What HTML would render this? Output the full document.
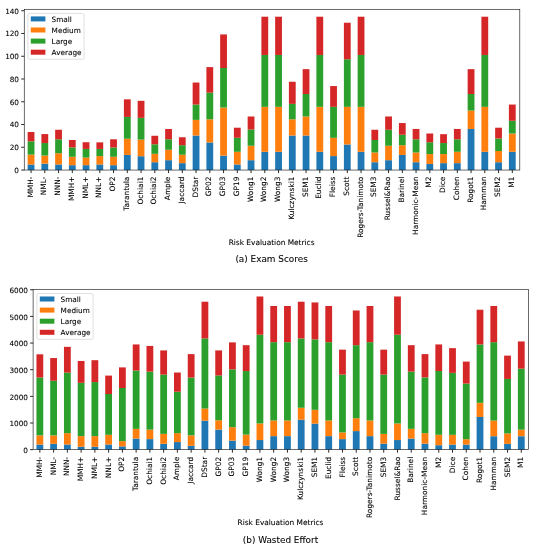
<!DOCTYPE html>
<html><head><meta charset="utf-8"><title>Risk Evaluation Metrics</title>
<style>
html,body{margin:0;padding:0;background:#fff;}
svg{display:block;}
text{font-family:"DejaVu Sans","Liberation Sans",sans-serif;fill:#000;stroke:#000;stroke-width:0.08px;}
.xt,.yt,.lg,.xl{font-size:7.3px;}
.cap{font-size:8.9px;}
.xt,.xl{font-size:7.4px;}
.yt{letter-spacing:-0.12px;}
.tk{stroke:#000;stroke-width:0.85;}
.sp{fill:none;stroke:#111;stroke-width:0.62;}
</style></head><body>
<svg width="536" height="550" viewBox="0 0 536 550">
<rect width="536" height="550" fill="#fff"/>
<rect x="27.65" y="164.49" width="6.80" height="5.56" fill="#1f77b4"/>
<rect x="27.65" y="154.61" width="6.80" height="9.87" fill="#ff7f0e"/>
<rect x="27.65" y="141.33" width="6.80" height="13.28" fill="#2ca02c"/>
<rect x="27.65" y="132.03" width="6.80" height="9.31" fill="#d62728"/>
<rect x="41.40" y="163.69" width="6.80" height="6.36" fill="#1f77b4"/>
<rect x="41.40" y="155.52" width="6.80" height="8.17" fill="#ff7f0e"/>
<rect x="41.40" y="143.04" width="6.80" height="12.49" fill="#2ca02c"/>
<rect x="41.40" y="134.07" width="6.80" height="8.97" fill="#d62728"/>
<rect x="55.15" y="164.49" width="6.80" height="5.56" fill="#1f77b4"/>
<rect x="55.15" y="153.25" width="6.80" height="11.24" fill="#ff7f0e"/>
<rect x="55.15" y="139.29" width="6.80" height="13.96" fill="#2ca02c"/>
<rect x="55.15" y="129.76" width="6.80" height="9.53" fill="#d62728"/>
<rect x="68.90" y="165.17" width="6.80" height="4.88" fill="#1f77b4"/>
<rect x="68.90" y="156.77" width="6.80" height="8.40" fill="#ff7f0e"/>
<rect x="68.90" y="147.46" width="6.80" height="9.31" fill="#2ca02c"/>
<rect x="68.90" y="139.97" width="6.80" height="7.49" fill="#d62728"/>
<rect x="82.65" y="165.17" width="6.80" height="4.88" fill="#1f77b4"/>
<rect x="82.65" y="157.56" width="6.80" height="7.60" fill="#ff7f0e"/>
<rect x="82.65" y="148.94" width="6.80" height="8.63" fill="#2ca02c"/>
<rect x="82.65" y="142.24" width="6.80" height="6.70" fill="#d62728"/>
<rect x="96.40" y="164.49" width="6.80" height="5.56" fill="#1f77b4"/>
<rect x="96.40" y="156.09" width="6.80" height="8.40" fill="#ff7f0e"/>
<rect x="96.40" y="148.94" width="6.80" height="7.15" fill="#2ca02c"/>
<rect x="96.40" y="142.36" width="6.80" height="6.58" fill="#d62728"/>
<rect x="110.15" y="165.17" width="6.80" height="4.88" fill="#1f77b4"/>
<rect x="110.15" y="156.77" width="6.80" height="8.40" fill="#ff7f0e"/>
<rect x="110.15" y="147.46" width="6.80" height="9.31" fill="#2ca02c"/>
<rect x="110.15" y="139.29" width="6.80" height="8.17" fill="#d62728"/>
<rect x="123.90" y="154.95" width="6.80" height="15.10" fill="#1f77b4"/>
<rect x="123.90" y="138.72" width="6.80" height="16.23" fill="#ff7f0e"/>
<rect x="123.90" y="116.93" width="6.80" height="21.79" fill="#2ca02c"/>
<rect x="123.90" y="99.34" width="6.80" height="17.59" fill="#d62728"/>
<rect x="137.65" y="156.20" width="6.80" height="13.85" fill="#1f77b4"/>
<rect x="137.65" y="139.63" width="6.80" height="16.57" fill="#ff7f0e"/>
<rect x="137.65" y="117.84" width="6.80" height="21.79" fill="#2ca02c"/>
<rect x="137.65" y="100.82" width="6.80" height="17.02" fill="#d62728"/>
<rect x="151.40" y="162.22" width="6.80" height="7.83" fill="#1f77b4"/>
<rect x="151.40" y="153.82" width="6.80" height="8.40" fill="#ff7f0e"/>
<rect x="151.40" y="144.29" width="6.80" height="9.53" fill="#2ca02c"/>
<rect x="151.40" y="135.77" width="6.80" height="8.51" fill="#d62728"/>
<rect x="165.15" y="160.18" width="6.80" height="9.87" fill="#1f77b4"/>
<rect x="165.15" y="149.73" width="6.80" height="10.44" fill="#ff7f0e"/>
<rect x="165.15" y="139.29" width="6.80" height="10.44" fill="#2ca02c"/>
<rect x="165.15" y="128.96" width="6.80" height="10.33" fill="#d62728"/>
<rect x="178.90" y="163.13" width="6.80" height="6.92" fill="#1f77b4"/>
<rect x="178.90" y="154.73" width="6.80" height="8.40" fill="#ff7f0e"/>
<rect x="178.90" y="145.19" width="6.80" height="9.53" fill="#2ca02c"/>
<rect x="178.90" y="137.25" width="6.80" height="7.95" fill="#d62728"/>
<rect x="192.65" y="135.55" width="6.80" height="34.50" fill="#1f77b4"/>
<rect x="192.65" y="119.88" width="6.80" height="15.66" fill="#ff7f0e"/>
<rect x="192.65" y="104.56" width="6.80" height="15.32" fill="#2ca02c"/>
<rect x="192.65" y="82.54" width="6.80" height="22.02" fill="#d62728"/>
<rect x="206.40" y="142.47" width="6.80" height="27.58" fill="#1f77b4"/>
<rect x="206.40" y="119.32" width="6.80" height="23.15" fill="#ff7f0e"/>
<rect x="206.40" y="92.64" width="6.80" height="26.67" fill="#2ca02c"/>
<rect x="206.40" y="67.11" width="6.80" height="25.54" fill="#d62728"/>
<rect x="220.15" y="155.64" width="6.80" height="14.41" fill="#1f77b4"/>
<rect x="220.15" y="107.51" width="6.80" height="48.12" fill="#ff7f0e"/>
<rect x="220.15" y="68.01" width="6.80" height="39.50" fill="#2ca02c"/>
<rect x="220.15" y="34.42" width="6.80" height="33.60" fill="#d62728"/>
<rect x="233.90" y="164.49" width="6.80" height="5.56" fill="#1f77b4"/>
<rect x="233.90" y="151.78" width="6.80" height="12.71" fill="#ff7f0e"/>
<rect x="233.90" y="137.82" width="6.80" height="13.96" fill="#2ca02c"/>
<rect x="233.90" y="127.71" width="6.80" height="10.10" fill="#d62728"/>
<rect x="247.65" y="160.18" width="6.80" height="9.87" fill="#1f77b4"/>
<rect x="247.65" y="145.76" width="6.80" height="14.41" fill="#ff7f0e"/>
<rect x="247.65" y="129.53" width="6.80" height="16.23" fill="#2ca02c"/>
<rect x="247.65" y="116.48" width="6.80" height="13.05" fill="#d62728"/>
<rect x="261.40" y="151.78" width="6.80" height="18.27" fill="#1f77b4"/>
<rect x="261.40" y="106.83" width="6.80" height="44.95" fill="#ff7f0e"/>
<rect x="261.40" y="54.96" width="6.80" height="51.87" fill="#2ca02c"/>
<rect x="261.40" y="16.71" width="6.80" height="38.25" fill="#d62728"/>
<rect x="275.15" y="151.78" width="6.80" height="18.27" fill="#1f77b4"/>
<rect x="275.15" y="106.83" width="6.80" height="44.95" fill="#ff7f0e"/>
<rect x="275.15" y="54.96" width="6.80" height="51.87" fill="#2ca02c"/>
<rect x="275.15" y="16.71" width="6.80" height="38.25" fill="#d62728"/>
<rect x="288.90" y="135.55" width="6.80" height="34.50" fill="#1f77b4"/>
<rect x="288.90" y="119.32" width="6.80" height="16.23" fill="#ff7f0e"/>
<rect x="288.90" y="103.88" width="6.80" height="15.44" fill="#2ca02c"/>
<rect x="288.90" y="81.75" width="6.80" height="22.13" fill="#d62728"/>
<rect x="302.65" y="135.55" width="6.80" height="34.50" fill="#1f77b4"/>
<rect x="302.65" y="116.48" width="6.80" height="19.07" fill="#ff7f0e"/>
<rect x="302.65" y="94.01" width="6.80" height="22.47" fill="#2ca02c"/>
<rect x="302.65" y="69.15" width="6.80" height="24.86" fill="#d62728"/>
<rect x="316.40" y="151.78" width="6.80" height="18.27" fill="#1f77b4"/>
<rect x="316.40" y="106.83" width="6.80" height="44.95" fill="#ff7f0e"/>
<rect x="316.40" y="54.96" width="6.80" height="51.87" fill="#2ca02c"/>
<rect x="316.40" y="16.71" width="6.80" height="38.25" fill="#d62728"/>
<rect x="330.15" y="156.09" width="6.80" height="13.96" fill="#1f77b4"/>
<rect x="330.15" y="137.82" width="6.80" height="18.27" fill="#ff7f0e"/>
<rect x="330.15" y="106.83" width="6.80" height="30.99" fill="#2ca02c"/>
<rect x="330.15" y="86.06" width="6.80" height="20.77" fill="#d62728"/>
<rect x="343.90" y="144.51" width="6.80" height="25.54" fill="#1f77b4"/>
<rect x="343.90" y="106.83" width="6.80" height="37.68" fill="#ff7f0e"/>
<rect x="343.90" y="59.27" width="6.80" height="47.56" fill="#2ca02c"/>
<rect x="343.90" y="22.73" width="6.80" height="36.55" fill="#d62728"/>
<rect x="357.65" y="151.78" width="6.80" height="18.27" fill="#1f77b4"/>
<rect x="357.65" y="106.83" width="6.80" height="44.95" fill="#ff7f0e"/>
<rect x="357.65" y="54.96" width="6.80" height="51.87" fill="#2ca02c"/>
<rect x="357.65" y="16.71" width="6.80" height="38.25" fill="#d62728"/>
<rect x="371.40" y="162.22" width="6.80" height="7.83" fill="#1f77b4"/>
<rect x="371.40" y="152.46" width="6.80" height="9.76" fill="#ff7f0e"/>
<rect x="371.40" y="139.97" width="6.80" height="12.48" fill="#2ca02c"/>
<rect x="371.40" y="129.76" width="6.80" height="10.22" fill="#d62728"/>
<rect x="385.15" y="160.18" width="6.80" height="9.87" fill="#1f77b4"/>
<rect x="385.15" y="145.76" width="6.80" height="14.41" fill="#ff7f0e"/>
<rect x="385.15" y="129.76" width="6.80" height="16.00" fill="#2ca02c"/>
<rect x="385.15" y="116.48" width="6.80" height="13.28" fill="#d62728"/>
<rect x="398.90" y="154.95" width="6.80" height="15.10" fill="#1f77b4"/>
<rect x="398.90" y="145.19" width="6.80" height="9.76" fill="#ff7f0e"/>
<rect x="398.90" y="134.75" width="6.80" height="10.44" fill="#2ca02c"/>
<rect x="398.90" y="123.06" width="6.80" height="11.69" fill="#d62728"/>
<rect x="412.65" y="162.22" width="6.80" height="7.83" fill="#1f77b4"/>
<rect x="412.65" y="152.46" width="6.80" height="9.76" fill="#ff7f0e"/>
<rect x="412.65" y="139.29" width="6.80" height="13.17" fill="#2ca02c"/>
<rect x="412.65" y="128.96" width="6.80" height="10.33" fill="#d62728"/>
<rect x="426.40" y="163.92" width="6.80" height="6.13" fill="#1f77b4"/>
<rect x="426.40" y="154.05" width="6.80" height="9.87" fill="#ff7f0e"/>
<rect x="426.40" y="142.24" width="6.80" height="11.80" fill="#2ca02c"/>
<rect x="426.40" y="133.50" width="6.80" height="8.74" fill="#d62728"/>
<rect x="440.15" y="163.13" width="6.80" height="6.92" fill="#1f77b4"/>
<rect x="440.15" y="154.05" width="6.80" height="9.08" fill="#ff7f0e"/>
<rect x="440.15" y="143.04" width="6.80" height="11.01" fill="#2ca02c"/>
<rect x="440.15" y="134.18" width="6.80" height="8.85" fill="#d62728"/>
<rect x="453.90" y="163.13" width="6.80" height="6.92" fill="#1f77b4"/>
<rect x="453.90" y="151.78" width="6.80" height="11.35" fill="#ff7f0e"/>
<rect x="453.90" y="139.29" width="6.80" height="12.48" fill="#2ca02c"/>
<rect x="453.90" y="128.96" width="6.80" height="10.33" fill="#d62728"/>
<rect x="467.65" y="128.96" width="6.80" height="41.09" fill="#1f77b4"/>
<rect x="467.65" y="110.58" width="6.80" height="18.39" fill="#ff7f0e"/>
<rect x="467.65" y="94.01" width="6.80" height="16.57" fill="#2ca02c"/>
<rect x="467.65" y="69.15" width="6.80" height="24.86" fill="#d62728"/>
<rect x="481.40" y="151.78" width="6.80" height="18.27" fill="#1f77b4"/>
<rect x="481.40" y="106.83" width="6.80" height="44.95" fill="#ff7f0e"/>
<rect x="481.40" y="54.96" width="6.80" height="51.87" fill="#2ca02c"/>
<rect x="481.40" y="16.71" width="6.80" height="38.25" fill="#d62728"/>
<rect x="495.15" y="162.22" width="6.80" height="7.83" fill="#1f77b4"/>
<rect x="495.15" y="150.98" width="6.80" height="11.24" fill="#ff7f0e"/>
<rect x="495.15" y="138.50" width="6.80" height="12.48" fill="#2ca02c"/>
<rect x="495.15" y="127.71" width="6.80" height="10.78" fill="#d62728"/>
<rect x="508.90" y="151.78" width="6.80" height="18.27" fill="#1f77b4"/>
<rect x="508.90" y="133.50" width="6.80" height="18.27" fill="#ff7f0e"/>
<rect x="508.90" y="120.79" width="6.80" height="12.71" fill="#2ca02c"/>
<rect x="508.90" y="104.56" width="6.80" height="16.23" fill="#d62728"/>
<line x1="31.05" y1="170.05" x2="31.05" y2="173.05" class="tk"/>
<text class="xt" transform="translate(32.65,176.60) rotate(-90)" text-anchor="end">MMH-</text>
<line x1="44.80" y1="170.05" x2="44.80" y2="173.05" class="tk"/>
<text class="xt" transform="translate(46.40,176.60) rotate(-90)" text-anchor="end">NML-</text>
<line x1="58.55" y1="170.05" x2="58.55" y2="173.05" class="tk"/>
<text class="xt" transform="translate(60.15,176.60) rotate(-90)" text-anchor="end">NNN-</text>
<line x1="72.30" y1="170.05" x2="72.30" y2="173.05" class="tk"/>
<text class="xt" transform="translate(73.90,176.60) rotate(-90)" text-anchor="end">MMH+</text>
<line x1="86.05" y1="170.05" x2="86.05" y2="173.05" class="tk"/>
<text class="xt" transform="translate(87.65,176.60) rotate(-90)" text-anchor="end">NML+</text>
<line x1="99.80" y1="170.05" x2="99.80" y2="173.05" class="tk"/>
<text class="xt" transform="translate(101.40,176.60) rotate(-90)" text-anchor="end">NNL+</text>
<line x1="113.55" y1="170.05" x2="113.55" y2="173.05" class="tk"/>
<text class="xt" transform="translate(115.15,176.60) rotate(-90)" text-anchor="end">OP2</text>
<line x1="127.30" y1="170.05" x2="127.30" y2="173.05" class="tk"/>
<text class="xt" transform="translate(128.90,176.60) rotate(-90)" text-anchor="end">Tarantula</text>
<line x1="141.05" y1="170.05" x2="141.05" y2="173.05" class="tk"/>
<text class="xt" transform="translate(142.65,176.60) rotate(-90)" text-anchor="end">Ochiai1</text>
<line x1="154.80" y1="170.05" x2="154.80" y2="173.05" class="tk"/>
<text class="xt" transform="translate(156.40,176.60) rotate(-90)" text-anchor="end">Ochiai2</text>
<line x1="168.55" y1="170.05" x2="168.55" y2="173.05" class="tk"/>
<text class="xt" transform="translate(170.15,176.60) rotate(-90)" text-anchor="end">Ample</text>
<line x1="182.30" y1="170.05" x2="182.30" y2="173.05" class="tk"/>
<text class="xt" transform="translate(183.90,176.60) rotate(-90)" text-anchor="end">Jaccard</text>
<line x1="196.05" y1="170.05" x2="196.05" y2="173.05" class="tk"/>
<text class="xt" transform="translate(197.65,176.60) rotate(-90)" text-anchor="end">DStar</text>
<line x1="209.80" y1="170.05" x2="209.80" y2="173.05" class="tk"/>
<text class="xt" transform="translate(211.40,176.60) rotate(-90)" text-anchor="end">GP02</text>
<line x1="223.55" y1="170.05" x2="223.55" y2="173.05" class="tk"/>
<text class="xt" transform="translate(225.15,176.60) rotate(-90)" text-anchor="end">GP03</text>
<line x1="237.30" y1="170.05" x2="237.30" y2="173.05" class="tk"/>
<text class="xt" transform="translate(238.90,176.60) rotate(-90)" text-anchor="end">GP19</text>
<line x1="251.05" y1="170.05" x2="251.05" y2="173.05" class="tk"/>
<text class="xt" transform="translate(252.65,176.60) rotate(-90)" text-anchor="end">Wong1</text>
<line x1="264.80" y1="170.05" x2="264.80" y2="173.05" class="tk"/>
<text class="xt" transform="translate(266.40,176.60) rotate(-90)" text-anchor="end">Wong2</text>
<line x1="278.55" y1="170.05" x2="278.55" y2="173.05" class="tk"/>
<text class="xt" transform="translate(280.15,176.60) rotate(-90)" text-anchor="end">Wong3</text>
<line x1="292.30" y1="170.05" x2="292.30" y2="173.05" class="tk"/>
<text class="xt" transform="translate(293.90,176.60) rotate(-90)" text-anchor="end">Kulczynski1</text>
<line x1="306.05" y1="170.05" x2="306.05" y2="173.05" class="tk"/>
<text class="xt" transform="translate(307.65,176.60) rotate(-90)" text-anchor="end">SEM1</text>
<line x1="319.80" y1="170.05" x2="319.80" y2="173.05" class="tk"/>
<text class="xt" transform="translate(321.40,176.60) rotate(-90)" text-anchor="end">Euclid</text>
<line x1="333.55" y1="170.05" x2="333.55" y2="173.05" class="tk"/>
<text class="xt" transform="translate(335.15,176.60) rotate(-90)" text-anchor="end">Fleiss</text>
<line x1="347.30" y1="170.05" x2="347.30" y2="173.05" class="tk"/>
<text class="xt" transform="translate(348.90,176.60) rotate(-90)" text-anchor="end">Scott</text>
<line x1="361.05" y1="170.05" x2="361.05" y2="173.05" class="tk"/>
<text class="xt" transform="translate(362.65,176.60) rotate(-90)" text-anchor="end">Rogers-Tanimoto</text>
<line x1="374.80" y1="170.05" x2="374.80" y2="173.05" class="tk"/>
<text class="xt" transform="translate(376.40,176.60) rotate(-90)" text-anchor="end">SEM3</text>
<line x1="388.55" y1="170.05" x2="388.55" y2="173.05" class="tk"/>
<text class="xt" transform="translate(390.15,176.60) rotate(-90)" text-anchor="end">Russel&amp;Rao</text>
<line x1="402.30" y1="170.05" x2="402.30" y2="173.05" class="tk"/>
<text class="xt" transform="translate(403.90,176.60) rotate(-90)" text-anchor="end">Barinel</text>
<line x1="416.05" y1="170.05" x2="416.05" y2="173.05" class="tk"/>
<text class="xt" transform="translate(417.65,176.60) rotate(-90)" text-anchor="end">Harmonic-Mean</text>
<line x1="429.80" y1="170.05" x2="429.80" y2="173.05" class="tk"/>
<text class="xt" transform="translate(431.40,176.60) rotate(-90)" text-anchor="end">M2</text>
<line x1="443.55" y1="170.05" x2="443.55" y2="173.05" class="tk"/>
<text class="xt" transform="translate(445.15,176.60) rotate(-90)" text-anchor="end">Dice</text>
<line x1="457.30" y1="170.05" x2="457.30" y2="173.05" class="tk"/>
<text class="xt" transform="translate(458.90,176.60) rotate(-90)" text-anchor="end">Cohen</text>
<line x1="471.05" y1="170.05" x2="471.05" y2="173.05" class="tk"/>
<text class="xt" transform="translate(472.65,176.60) rotate(-90)" text-anchor="end">Rogot1</text>
<line x1="484.80" y1="170.05" x2="484.80" y2="173.05" class="tk"/>
<text class="xt" transform="translate(486.40,176.60) rotate(-90)" text-anchor="end">Hamman</text>
<line x1="498.55" y1="170.05" x2="498.55" y2="173.05" class="tk"/>
<text class="xt" transform="translate(500.15,176.60) rotate(-90)" text-anchor="end">SEM2</text>
<line x1="512.30" y1="170.05" x2="512.30" y2="173.05" class="tk"/>
<text class="xt" transform="translate(513.90,176.60) rotate(-90)" text-anchor="end">M1</text>
<line x1="21.25" y1="170.05" x2="24.25" y2="170.05" class="tk"/>
<text class="yt" x="18.85" y="173.00" text-anchor="end">0</text>
<line x1="21.25" y1="147.29" x2="24.25" y2="147.29" class="tk"/>
<text class="yt" x="18.85" y="150.24" text-anchor="end">20</text>
<line x1="21.25" y1="124.53" x2="24.25" y2="124.53" class="tk"/>
<text class="yt" x="18.85" y="127.48" text-anchor="end">40</text>
<line x1="21.25" y1="101.77" x2="24.25" y2="101.77" class="tk"/>
<text class="yt" x="18.85" y="104.72" text-anchor="end">60</text>
<line x1="21.25" y1="79.01" x2="24.25" y2="79.01" class="tk"/>
<text class="yt" x="18.85" y="81.96" text-anchor="end">80</text>
<line x1="21.25" y1="56.25" x2="24.25" y2="56.25" class="tk"/>
<text class="yt" x="18.85" y="59.20" text-anchor="end">100</text>
<line x1="21.25" y1="33.49" x2="24.25" y2="33.49" class="tk"/>
<text class="yt" x="18.85" y="36.44" text-anchor="end">120</text>
<line x1="21.25" y1="10.73" x2="24.25" y2="10.73" class="tk"/>
<text class="yt" x="18.85" y="13.68" text-anchor="end">140</text>
<rect x="24.25" y="9.30" width="495.55" height="160.75" class="sp"/>
<rect x="27.90" y="13.40" width="56.2" height="45.9" rx="1.4" ry="1.4" fill="#fff" fill-opacity="0.8" stroke="#ccc" stroke-opacity="0.8" stroke-width="0.73"/>
<rect x="30.80" y="16.40" width="14.6" height="5.0" fill="#1f77b4"/>
<text class="lg" x="51.60" y="21.50">Small</text>
<rect x="30.80" y="27.50" width="14.6" height="5.0" fill="#ff7f0e"/>
<text class="lg" x="51.60" y="32.60">Medium</text>
<rect x="30.80" y="38.60" width="14.6" height="5.0" fill="#2ca02c"/>
<text class="lg" x="51.60" y="43.70">Large</text>
<rect x="30.80" y="49.70" width="14.6" height="5.0" fill="#d62728"/>
<text class="lg" x="51.60" y="54.80">Average</text>
<text class="xl" x="271.6" y="245.1" text-anchor="middle">Risk Evaluation Metrics</text>
<text class="cap" x="271.6" y="261.8" text-anchor="middle">(a) Exam Scores</text>
<rect x="36.45" y="444.53" width="6.80" height="5.12" fill="#1f77b4"/>
<rect x="36.45" y="435.37" width="6.80" height="9.16" fill="#ff7f0e"/>
<rect x="36.45" y="377.51" width="6.80" height="57.85" fill="#2ca02c"/>
<rect x="36.45" y="354.31" width="6.80" height="23.20" fill="#d62728"/>
<rect x="50.21" y="443.78" width="6.80" height="5.87" fill="#1f77b4"/>
<rect x="50.21" y="435.37" width="6.80" height="8.42" fill="#ff7f0e"/>
<rect x="50.21" y="380.75" width="6.80" height="54.61" fill="#2ca02c"/>
<rect x="50.21" y="358.05" width="6.80" height="22.70" fill="#d62728"/>
<rect x="63.96" y="444.53" width="6.80" height="5.12" fill="#1f77b4"/>
<rect x="63.96" y="433.14" width="6.80" height="11.39" fill="#ff7f0e"/>
<rect x="63.96" y="372.58" width="6.80" height="60.56" fill="#2ca02c"/>
<rect x="63.96" y="346.85" width="6.80" height="25.73" fill="#d62728"/>
<rect x="77.72" y="446.76" width="6.80" height="2.89" fill="#1f77b4"/>
<rect x="77.72" y="436.14" width="6.80" height="10.62" fill="#ff7f0e"/>
<rect x="77.72" y="382.82" width="6.80" height="53.31" fill="#2ca02c"/>
<rect x="77.72" y="360.97" width="6.80" height="21.85" fill="#d62728"/>
<rect x="91.47" y="446.76" width="6.80" height="2.89" fill="#1f77b4"/>
<rect x="91.47" y="436.14" width="6.80" height="10.62" fill="#ff7f0e"/>
<rect x="91.47" y="382.08" width="6.80" height="54.06" fill="#2ca02c"/>
<rect x="91.47" y="360.18" width="6.80" height="21.90" fill="#d62728"/>
<rect x="105.22" y="444.53" width="6.80" height="5.12" fill="#1f77b4"/>
<rect x="105.22" y="434.81" width="6.80" height="9.72" fill="#ff7f0e"/>
<rect x="105.22" y="394.00" width="6.80" height="40.81" fill="#2ca02c"/>
<rect x="105.22" y="375.58" width="6.80" height="18.43" fill="#d62728"/>
<rect x="118.98" y="446.38" width="6.80" height="3.27" fill="#1f77b4"/>
<rect x="118.98" y="441.15" width="6.80" height="5.23" fill="#ff7f0e"/>
<rect x="118.98" y="388.00" width="6.80" height="53.15" fill="#2ca02c"/>
<rect x="118.98" y="367.40" width="6.80" height="20.60" fill="#d62728"/>
<rect x="132.74" y="438.55" width="6.80" height="11.10" fill="#1f77b4"/>
<rect x="132.74" y="428.83" width="6.80" height="9.72" fill="#ff7f0e"/>
<rect x="132.74" y="370.50" width="6.80" height="58.33" fill="#2ca02c"/>
<rect x="132.74" y="344.43" width="6.80" height="26.07" fill="#d62728"/>
<rect x="146.49" y="439.11" width="6.80" height="10.54" fill="#1f77b4"/>
<rect x="146.49" y="429.60" width="6.80" height="9.50" fill="#ff7f0e"/>
<rect x="146.49" y="371.62" width="6.80" height="57.99" fill="#2ca02c"/>
<rect x="146.49" y="345.92" width="6.80" height="25.70" fill="#d62728"/>
<rect x="160.25" y="443.78" width="6.80" height="5.87" fill="#1f77b4"/>
<rect x="160.25" y="433.88" width="6.80" height="9.90" fill="#ff7f0e"/>
<rect x="160.25" y="374.62" width="6.80" height="59.26" fill="#2ca02c"/>
<rect x="160.25" y="350.41" width="6.80" height="24.21" fill="#d62728"/>
<rect x="174.00" y="442.08" width="6.80" height="7.57" fill="#1f77b4"/>
<rect x="174.00" y="433.14" width="6.80" height="8.95" fill="#ff7f0e"/>
<rect x="174.00" y="391.72" width="6.80" height="41.42" fill="#2ca02c"/>
<rect x="174.00" y="372.52" width="6.80" height="19.20" fill="#d62728"/>
<rect x="187.75" y="445.83" width="6.80" height="3.82" fill="#1f77b4"/>
<rect x="187.75" y="435.37" width="6.80" height="10.46" fill="#ff7f0e"/>
<rect x="187.75" y="377.59" width="6.80" height="57.77" fill="#2ca02c"/>
<rect x="187.75" y="354.12" width="6.80" height="23.47" fill="#d62728"/>
<rect x="201.51" y="420.63" width="6.80" height="29.02" fill="#1f77b4"/>
<rect x="201.51" y="408.52" width="6.80" height="12.11" fill="#ff7f0e"/>
<rect x="201.51" y="338.46" width="6.80" height="70.07" fill="#2ca02c"/>
<rect x="201.51" y="301.71" width="6.80" height="36.75" fill="#d62728"/>
<rect x="215.26" y="429.60" width="6.80" height="20.05" fill="#1f77b4"/>
<rect x="215.26" y="420.26" width="6.80" height="9.35" fill="#ff7f0e"/>
<rect x="215.26" y="375.44" width="6.80" height="44.82" fill="#2ca02c"/>
<rect x="215.26" y="350.41" width="6.80" height="25.04" fill="#d62728"/>
<rect x="229.02" y="440.60" width="6.80" height="9.05" fill="#1f77b4"/>
<rect x="229.02" y="427.16" width="6.80" height="13.43" fill="#ff7f0e"/>
<rect x="229.02" y="369.39" width="6.80" height="57.77" fill="#2ca02c"/>
<rect x="229.02" y="342.39" width="6.80" height="27.00" fill="#d62728"/>
<rect x="242.78" y="445.64" width="6.80" height="4.01" fill="#1f77b4"/>
<rect x="242.78" y="434.62" width="6.80" height="11.02" fill="#ff7f0e"/>
<rect x="242.78" y="371.06" width="6.80" height="63.56" fill="#2ca02c"/>
<rect x="242.78" y="345.18" width="6.80" height="25.89" fill="#d62728"/>
<rect x="256.53" y="440.04" width="6.80" height="9.61" fill="#1f77b4"/>
<rect x="256.53" y="423.45" width="6.80" height="16.59" fill="#ff7f0e"/>
<rect x="256.53" y="334.72" width="6.80" height="88.73" fill="#2ca02c"/>
<rect x="256.53" y="296.48" width="6.80" height="38.23" fill="#d62728"/>
<rect x="270.29" y="436.14" width="6.80" height="13.51" fill="#1f77b4"/>
<rect x="270.29" y="420.44" width="6.80" height="15.69" fill="#ff7f0e"/>
<rect x="270.29" y="342.18" width="6.80" height="78.27" fill="#2ca02c"/>
<rect x="270.29" y="305.99" width="6.80" height="36.19" fill="#d62728"/>
<rect x="284.04" y="436.14" width="6.80" height="13.51" fill="#1f77b4"/>
<rect x="284.04" y="420.44" width="6.80" height="15.69" fill="#ff7f0e"/>
<rect x="284.04" y="342.18" width="6.80" height="78.27" fill="#2ca02c"/>
<rect x="284.04" y="305.99" width="6.80" height="36.19" fill="#d62728"/>
<rect x="297.80" y="419.70" width="6.80" height="29.95" fill="#1f77b4"/>
<rect x="297.80" y="407.75" width="6.80" height="11.95" fill="#ff7f0e"/>
<rect x="297.80" y="338.46" width="6.80" height="69.30" fill="#2ca02c"/>
<rect x="297.80" y="301.71" width="6.80" height="36.75" fill="#d62728"/>
<rect x="311.55" y="423.63" width="6.80" height="26.02" fill="#1f77b4"/>
<rect x="311.55" y="409.82" width="6.80" height="13.81" fill="#ff7f0e"/>
<rect x="311.55" y="339.39" width="6.80" height="70.44" fill="#2ca02c"/>
<rect x="311.55" y="302.46" width="6.80" height="36.93" fill="#d62728"/>
<rect x="325.31" y="436.14" width="6.80" height="13.51" fill="#1f77b4"/>
<rect x="325.31" y="420.44" width="6.80" height="15.69" fill="#ff7f0e"/>
<rect x="325.31" y="342.18" width="6.80" height="78.27" fill="#2ca02c"/>
<rect x="325.31" y="305.99" width="6.80" height="36.19" fill="#d62728"/>
<rect x="339.06" y="439.11" width="6.80" height="10.54" fill="#1f77b4"/>
<rect x="339.06" y="432.39" width="6.80" height="6.72" fill="#ff7f0e"/>
<rect x="339.06" y="374.62" width="6.80" height="57.77" fill="#2ca02c"/>
<rect x="339.06" y="349.64" width="6.80" height="24.98" fill="#d62728"/>
<rect x="352.82" y="431.09" width="6.80" height="18.56" fill="#1f77b4"/>
<rect x="352.82" y="418.21" width="6.80" height="12.88" fill="#ff7f0e"/>
<rect x="352.82" y="345.18" width="6.80" height="73.04" fill="#2ca02c"/>
<rect x="352.82" y="310.47" width="6.80" height="34.70" fill="#d62728"/>
<rect x="366.57" y="436.14" width="6.80" height="13.51" fill="#1f77b4"/>
<rect x="366.57" y="420.44" width="6.80" height="15.69" fill="#ff7f0e"/>
<rect x="366.57" y="342.18" width="6.80" height="78.27" fill="#2ca02c"/>
<rect x="366.57" y="305.99" width="6.80" height="36.19" fill="#d62728"/>
<rect x="380.33" y="443.60" width="6.80" height="6.05" fill="#1f77b4"/>
<rect x="380.33" y="433.88" width="6.80" height="9.72" fill="#ff7f0e"/>
<rect x="380.33" y="374.62" width="6.80" height="59.26" fill="#2ca02c"/>
<rect x="380.33" y="349.64" width="6.80" height="24.98" fill="#d62728"/>
<rect x="394.08" y="440.04" width="6.80" height="9.61" fill="#1f77b4"/>
<rect x="394.08" y="423.45" width="6.80" height="16.59" fill="#ff7f0e"/>
<rect x="394.08" y="334.72" width="6.80" height="88.73" fill="#2ca02c"/>
<rect x="394.08" y="296.48" width="6.80" height="38.23" fill="#d62728"/>
<rect x="407.84" y="438.55" width="6.80" height="11.10" fill="#1f77b4"/>
<rect x="407.84" y="428.83" width="6.80" height="9.72" fill="#ff7f0e"/>
<rect x="407.84" y="371.62" width="6.80" height="57.22" fill="#2ca02c"/>
<rect x="407.84" y="345.18" width="6.80" height="26.44" fill="#d62728"/>
<rect x="421.59" y="443.60" width="6.80" height="6.05" fill="#1f77b4"/>
<rect x="421.59" y="433.14" width="6.80" height="10.46" fill="#ff7f0e"/>
<rect x="421.59" y="377.41" width="6.80" height="55.73" fill="#2ca02c"/>
<rect x="421.59" y="354.12" width="6.80" height="23.28" fill="#d62728"/>
<rect x="435.35" y="445.22" width="6.80" height="4.43" fill="#1f77b4"/>
<rect x="435.35" y="434.78" width="6.80" height="10.43" fill="#ff7f0e"/>
<rect x="435.35" y="370.98" width="6.80" height="63.80" fill="#2ca02c"/>
<rect x="435.35" y="344.43" width="6.80" height="26.55" fill="#d62728"/>
<rect x="449.10" y="444.58" width="6.80" height="5.07" fill="#1f77b4"/>
<rect x="449.10" y="434.86" width="6.80" height="9.72" fill="#ff7f0e"/>
<rect x="449.10" y="372.87" width="6.80" height="61.99" fill="#2ca02c"/>
<rect x="449.10" y="348.15" width="6.80" height="24.72" fill="#d62728"/>
<rect x="462.86" y="444.61" width="6.80" height="5.04" fill="#1f77b4"/>
<rect x="462.86" y="439.19" width="6.80" height="5.42" fill="#ff7f0e"/>
<rect x="462.86" y="383.59" width="6.80" height="55.60" fill="#2ca02c"/>
<rect x="462.86" y="361.58" width="6.80" height="22.01" fill="#d62728"/>
<rect x="476.61" y="416.99" width="6.80" height="32.66" fill="#1f77b4"/>
<rect x="476.61" y="402.82" width="6.80" height="14.18" fill="#ff7f0e"/>
<rect x="476.61" y="344.43" width="6.80" height="58.38" fill="#2ca02c"/>
<rect x="476.61" y="309.73" width="6.80" height="34.70" fill="#d62728"/>
<rect x="490.37" y="436.22" width="6.80" height="13.43" fill="#1f77b4"/>
<rect x="490.37" y="420.55" width="6.80" height="15.66" fill="#ff7f0e"/>
<rect x="490.37" y="342.18" width="6.80" height="78.38" fill="#2ca02c"/>
<rect x="490.37" y="305.99" width="6.80" height="36.19" fill="#d62728"/>
<rect x="504.12" y="443.86" width="6.80" height="5.79" fill="#1f77b4"/>
<rect x="504.12" y="433.43" width="6.80" height="10.43" fill="#ff7f0e"/>
<rect x="504.12" y="378.95" width="6.80" height="54.48" fill="#2ca02c"/>
<rect x="504.12" y="355.61" width="6.80" height="23.34" fill="#d62728"/>
<rect x="517.88" y="436.22" width="6.80" height="13.43" fill="#1f77b4"/>
<rect x="517.88" y="429.68" width="6.80" height="6.53" fill="#ff7f0e"/>
<rect x="517.88" y="368.67" width="6.80" height="61.01" fill="#2ca02c"/>
<rect x="517.88" y="341.43" width="6.80" height="27.24" fill="#d62728"/>
<line x1="39.85" y1="449.65" x2="39.85" y2="452.65" class="tk"/>
<text class="xt" transform="translate(41.90,456.80) rotate(-90)" text-anchor="end">MMH-</text>
<line x1="53.61" y1="449.65" x2="53.61" y2="452.65" class="tk"/>
<text class="xt" transform="translate(55.66,456.80) rotate(-90)" text-anchor="end">NML-</text>
<line x1="67.36" y1="449.65" x2="67.36" y2="452.65" class="tk"/>
<text class="xt" transform="translate(69.41,456.80) rotate(-90)" text-anchor="end">NNN-</text>
<line x1="81.12" y1="449.65" x2="81.12" y2="452.65" class="tk"/>
<text class="xt" transform="translate(83.17,456.80) rotate(-90)" text-anchor="end">MMH+</text>
<line x1="94.87" y1="449.65" x2="94.87" y2="452.65" class="tk"/>
<text class="xt" transform="translate(96.92,456.80) rotate(-90)" text-anchor="end">NML+</text>
<line x1="108.62" y1="449.65" x2="108.62" y2="452.65" class="tk"/>
<text class="xt" transform="translate(110.67,456.80) rotate(-90)" text-anchor="end">NNL+</text>
<line x1="122.38" y1="449.65" x2="122.38" y2="452.65" class="tk"/>
<text class="xt" transform="translate(124.43,456.80) rotate(-90)" text-anchor="end">OP2</text>
<line x1="136.14" y1="449.65" x2="136.14" y2="452.65" class="tk"/>
<text class="xt" transform="translate(138.19,456.80) rotate(-90)" text-anchor="end">Tarantula</text>
<line x1="149.89" y1="449.65" x2="149.89" y2="452.65" class="tk"/>
<text class="xt" transform="translate(151.94,456.80) rotate(-90)" text-anchor="end">Ochiai1</text>
<line x1="163.65" y1="449.65" x2="163.65" y2="452.65" class="tk"/>
<text class="xt" transform="translate(165.70,456.80) rotate(-90)" text-anchor="end">Ochiai2</text>
<line x1="177.40" y1="449.65" x2="177.40" y2="452.65" class="tk"/>
<text class="xt" transform="translate(179.45,456.80) rotate(-90)" text-anchor="end">Ample</text>
<line x1="191.16" y1="449.65" x2="191.16" y2="452.65" class="tk"/>
<text class="xt" transform="translate(193.21,456.80) rotate(-90)" text-anchor="end">Jaccard</text>
<line x1="204.91" y1="449.65" x2="204.91" y2="452.65" class="tk"/>
<text class="xt" transform="translate(206.96,456.80) rotate(-90)" text-anchor="end">DStar</text>
<line x1="218.66" y1="449.65" x2="218.66" y2="452.65" class="tk"/>
<text class="xt" transform="translate(220.72,456.80) rotate(-90)" text-anchor="end">GP02</text>
<line x1="232.42" y1="449.65" x2="232.42" y2="452.65" class="tk"/>
<text class="xt" transform="translate(234.47,456.80) rotate(-90)" text-anchor="end">GP03</text>
<line x1="246.18" y1="449.65" x2="246.18" y2="452.65" class="tk"/>
<text class="xt" transform="translate(248.23,456.80) rotate(-90)" text-anchor="end">GP19</text>
<line x1="259.93" y1="449.65" x2="259.93" y2="452.65" class="tk"/>
<text class="xt" transform="translate(261.98,456.80) rotate(-90)" text-anchor="end">Wong1</text>
<line x1="273.69" y1="449.65" x2="273.69" y2="452.65" class="tk"/>
<text class="xt" transform="translate(275.74,456.80) rotate(-90)" text-anchor="end">Wong2</text>
<line x1="287.44" y1="449.65" x2="287.44" y2="452.65" class="tk"/>
<text class="xt" transform="translate(289.49,456.80) rotate(-90)" text-anchor="end">Wong3</text>
<line x1="301.20" y1="449.65" x2="301.20" y2="452.65" class="tk"/>
<text class="xt" transform="translate(303.25,456.80) rotate(-90)" text-anchor="end">Kulczynski1</text>
<line x1="314.95" y1="449.65" x2="314.95" y2="452.65" class="tk"/>
<text class="xt" transform="translate(317.00,456.80) rotate(-90)" text-anchor="end">SEM1</text>
<line x1="328.71" y1="449.65" x2="328.71" y2="452.65" class="tk"/>
<text class="xt" transform="translate(330.76,456.80) rotate(-90)" text-anchor="end">Euclid</text>
<line x1="342.46" y1="449.65" x2="342.46" y2="452.65" class="tk"/>
<text class="xt" transform="translate(344.51,456.80) rotate(-90)" text-anchor="end">Fleiss</text>
<line x1="356.22" y1="449.65" x2="356.22" y2="452.65" class="tk"/>
<text class="xt" transform="translate(358.27,456.80) rotate(-90)" text-anchor="end">Scott</text>
<line x1="369.97" y1="449.65" x2="369.97" y2="452.65" class="tk"/>
<text class="xt" transform="translate(372.02,456.80) rotate(-90)" text-anchor="end">Rogers-Tanimoto</text>
<line x1="383.73" y1="449.65" x2="383.73" y2="452.65" class="tk"/>
<text class="xt" transform="translate(385.78,456.80) rotate(-90)" text-anchor="end">SEM3</text>
<line x1="397.48" y1="449.65" x2="397.48" y2="452.65" class="tk"/>
<text class="xt" transform="translate(399.53,456.80) rotate(-90)" text-anchor="end">Russel&amp;Rao</text>
<line x1="411.24" y1="449.65" x2="411.24" y2="452.65" class="tk"/>
<text class="xt" transform="translate(413.29,456.80) rotate(-90)" text-anchor="end">Barinel</text>
<line x1="424.99" y1="449.65" x2="424.99" y2="452.65" class="tk"/>
<text class="xt" transform="translate(427.04,456.80) rotate(-90)" text-anchor="end">Harmonic-Mean</text>
<line x1="438.75" y1="449.65" x2="438.75" y2="452.65" class="tk"/>
<text class="xt" transform="translate(440.80,456.80) rotate(-90)" text-anchor="end">M2</text>
<line x1="452.50" y1="449.65" x2="452.50" y2="452.65" class="tk"/>
<text class="xt" transform="translate(454.55,456.80) rotate(-90)" text-anchor="end">Dice</text>
<line x1="466.26" y1="449.65" x2="466.26" y2="452.65" class="tk"/>
<text class="xt" transform="translate(468.31,456.80) rotate(-90)" text-anchor="end">Cohen</text>
<line x1="480.01" y1="449.65" x2="480.01" y2="452.65" class="tk"/>
<text class="xt" transform="translate(482.06,456.80) rotate(-90)" text-anchor="end">Rogot1</text>
<line x1="493.77" y1="449.65" x2="493.77" y2="452.65" class="tk"/>
<text class="xt" transform="translate(495.82,456.80) rotate(-90)" text-anchor="end">Hamman</text>
<line x1="507.52" y1="449.65" x2="507.52" y2="452.65" class="tk"/>
<text class="xt" transform="translate(509.57,456.80) rotate(-90)" text-anchor="end">SEM2</text>
<line x1="521.27" y1="449.65" x2="521.27" y2="452.65" class="tk"/>
<text class="xt" transform="translate(523.32,456.80) rotate(-90)" text-anchor="end">M1</text>
<line x1="30.10" y1="449.65" x2="33.10" y2="449.65" class="tk"/>
<text class="yt" x="27.70" y="452.90" text-anchor="end">0</text>
<line x1="30.10" y1="423.00" x2="33.10" y2="423.00" class="tk"/>
<text class="yt" x="27.70" y="426.25" text-anchor="end">1000</text>
<line x1="30.10" y1="396.35" x2="33.10" y2="396.35" class="tk"/>
<text class="yt" x="27.70" y="399.60" text-anchor="end">2000</text>
<line x1="30.10" y1="369.70" x2="33.10" y2="369.70" class="tk"/>
<text class="yt" x="27.70" y="372.95" text-anchor="end">3000</text>
<line x1="30.10" y1="343.05" x2="33.10" y2="343.05" class="tk"/>
<text class="yt" x="27.70" y="346.30" text-anchor="end">4000</text>
<line x1="30.10" y1="316.40" x2="33.10" y2="316.40" class="tk"/>
<text class="yt" x="27.70" y="319.65" text-anchor="end">5000</text>
<line x1="30.10" y1="289.75" x2="33.10" y2="289.75" class="tk"/>
<text class="yt" x="27.70" y="293.00" text-anchor="end">6000</text>
<rect x="33.10" y="289.30" width="495.40" height="160.35" class="sp"/>
<rect x="36.90" y="293.50" width="56.2" height="45.9" rx="1.4" ry="1.4" fill="#fff" fill-opacity="0.8" stroke="#ccc" stroke-opacity="0.8" stroke-width="0.73"/>
<rect x="39.80" y="296.50" width="14.6" height="5.0" fill="#1f77b4"/>
<text class="lg" x="60.60" y="301.60">Small</text>
<rect x="39.80" y="307.60" width="14.6" height="5.0" fill="#ff7f0e"/>
<text class="lg" x="60.60" y="312.70">Medium</text>
<rect x="39.80" y="318.70" width="14.6" height="5.0" fill="#2ca02c"/>
<text class="lg" x="60.60" y="323.80">Large</text>
<rect x="39.80" y="329.80" width="14.6" height="5.0" fill="#d62728"/>
<text class="lg" x="60.60" y="334.90">Average</text>
<text class="xl" x="280.5" y="525.0" text-anchor="middle">Risk Evaluation Metrics</text>
<text class="cap" x="280.5" y="542.5" text-anchor="middle">(b) Wasted Effort</text>
</svg>
</body></html>
